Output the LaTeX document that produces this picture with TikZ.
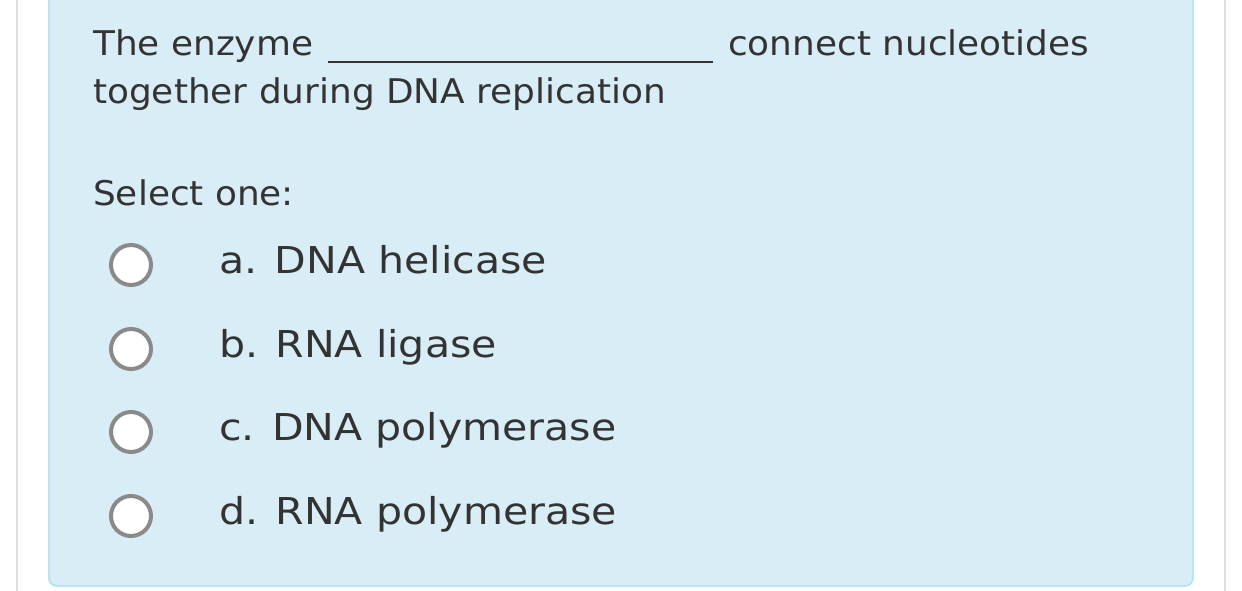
\documentclass[tikz,border=0pt]{standalone}
\usepackage{fontspec}
\setmainfont{DejaVu Sans}
\newfontfamily\qfont[FakeStretch=1.055]{DejaVu Sans}
\newfontfamily\ofont[FakeStretch=1.11]{DejaVu Sans}
\definecolor{boxfill}{HTML}{D9EDF7}
\definecolor{boxline}{HTML}{BCE3EE}
\definecolor{txt}{HTML}{333333}
\definecolor{radio}{HTML}{8A8A8A}
\definecolor{side}{HTML}{DDDDDD}
\begin{document}
\begin{tikzpicture}[x=1pt,y=-1pt,
  q/.style={anchor=base west,inner sep=0pt,text=txt,font=\qfont\fontsize{34}{40}\selectfont},
  opt/.style={anchor=base west,inner sep=0pt,text=txt,font=\ofont\fontsize{37}{43}\selectfont},
  rb/.style={circle,draw=radio,line width=4pt,fill=white,minimum size=40pt,inner sep=0pt}]
\useasboundingbox[fill=white] (0,0) rectangle (1242,591);
\draw[side,line width=2pt] (17,0) -- (17,591);
\draw[side,line width=2pt] (1225,0) -- (1225,591);
\draw[boxline,fill=boxfill,line width=2pt,rounded corners=8pt] (49,-20) rectangle (1193,586);
\node[q] (t1) at (93,56) {The enzyme};
\coordinate (u1) at (328,62);
\coordinate (u2) at (713,62);
\draw[txt,line width=1.5pt] (u1) -- (u2);
\node[q] (t2) at (728,56) {connect nucleotides};
\node[q] (t3) at (93,104) {together during DNA replication};
\node[q] (t4) at (93,205) {Select one:};
\node[rb] (r1) at (131,265) {};
\node[rb] (r2) at (131,349) {};
\node[rb] (r3) at (131,432) {};
\node[rb] (r4) at (131,516) {};
\node[opt] (o1) at (219,273) {a. DNA helicase};
\node[opt] (o2) at (219,357) {b. RNA ligase};
\node[opt] (o3) at (219,440) {c. DNA polymerase};
\node[opt] (o4) at (219,524) {d. RNA polymerase};
\end{tikzpicture}
\end{document}
